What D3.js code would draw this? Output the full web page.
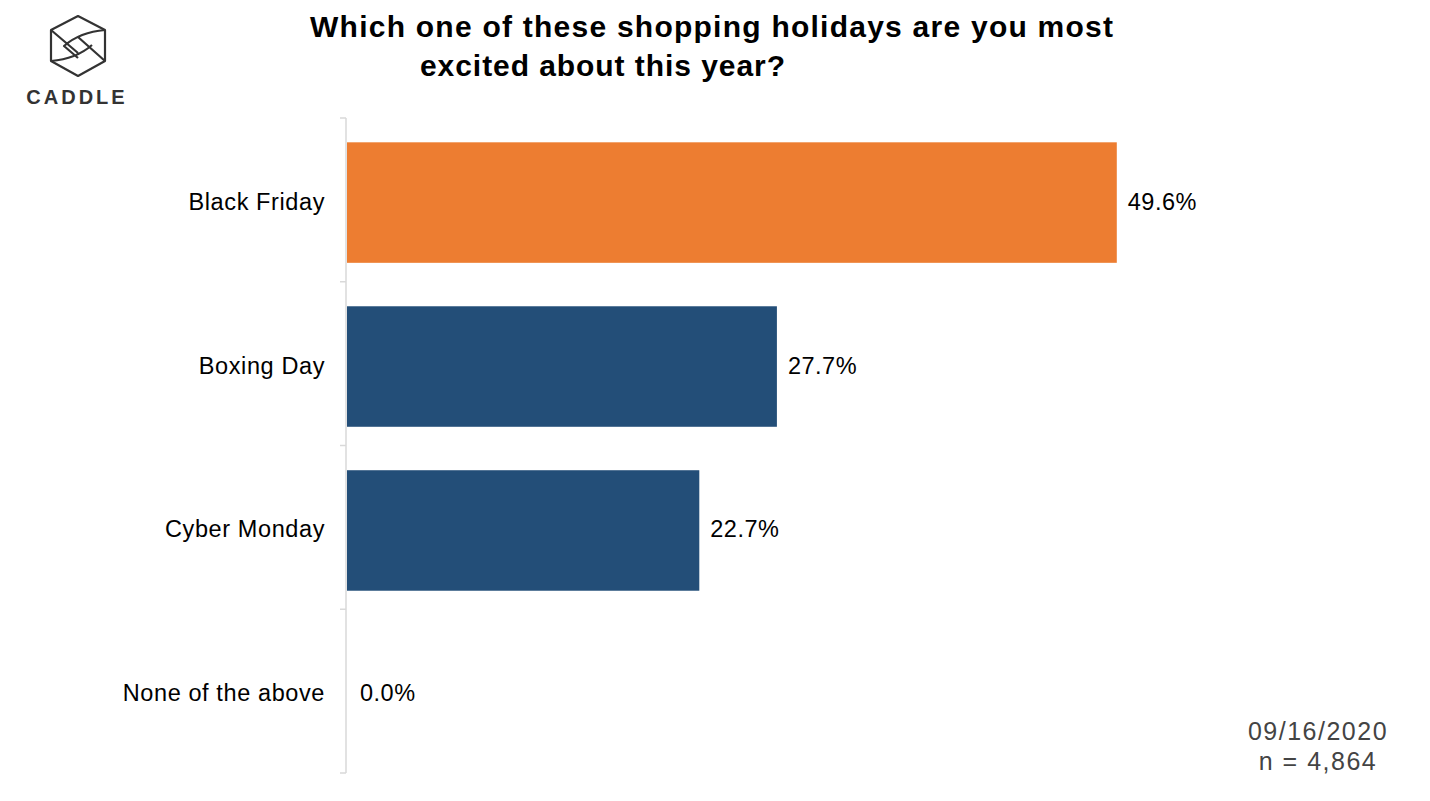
<!DOCTYPE html>
<html><head><meta charset="utf-8">
<script src="https://cdn.jsdelivr.net/npm/d3@7"></script>
<style>body{margin:0;background:#fff}text{font-family:"Liberation Sans",Arial,sans-serif}</style>
</head><body><svg></svg>
<script>
const categories = ['Black Friday', 'Boxing Day', 'Cyber Monday', 'None of the above'];
const values = [49.6, 27.7, 22.7, 0.0];
const colors = ['#ED7D31', '#234E78', '#234E78', '#234E78'];

const width = 1430, height = 801;
const svg = d3.select('svg').attr('width', width).attr('height', height);

const x = d3.scaleLinear().domain([0, 100]).range([347, 347 + 1552]);
const y = d3.scaleBand().domain(categories).range([121, 776]).paddingInner(0.265).paddingOuter(0.13);

// axis
svg.append('line').attr('x1', 346).attr('x2', 346).attr('y1', 118).attr('y2', 773)
    .attr('stroke', '#d9d9d9').attr('stroke-width', 1.5);
const step = (773 - 118) / categories.length;
d3.range(categories.length + 1).forEach(i => {
    svg.append('line').attr('x1', 340).attr('x2', 346)
        .attr('y1', 118 + i * step).attr('y2', 118 + i * step)
        .attr('stroke', '#d9d9d9').attr('stroke-width', 1.5);
});

svg.selectAll('rect.bar').data(values).enter().append('rect')
    .attr('class', 'bar')
    .attr('x', x(0))
    .attr('y', (d, i) => y(categories[i]))
    .attr('width', d => x(d) - x(0))
    .attr('height', y.bandwidth())
    .attr('fill', (d, i) => colors[i]);

svg.selectAll('text.val').data(values).enter().append('text')
    .attr('x', d => x(d) + (d > 0 ? 11 : 13))
    .attr('y', (d, i) => y(categories[i]) + y.bandwidth() / 2 + 7)
    .attr('font-size', 23.5).attr('letter-spacing', 0.5).attr('fill', '#000')
    .text(d => d.toFixed(1) + '%');

svg.selectAll('text.cat').data(categories).enter().append('text')
    .attr('x', 325).attr('text-anchor', 'end')
    .attr('y', d => y(d) + y.bandwidth() / 2 + 7)
    .attr('font-size', 23.5).attr('letter-spacing', 0.6).attr('fill', '#000')
    .text(d => d);

// title
svg.append('text').attr('x', 310).attr('y', 37)
    .attr('font-size', 30).attr('font-weight', 'bold')
    .attr('textLength', 803).attr('lengthAdjust', 'spacing')
    .text('Which one of these shopping holidays are you most');
svg.append('text').attr('x', 420).attr('y', 76)
    .attr('font-size', 30).attr('font-weight', 'bold')
    .attr('textLength', 365).attr('lengthAdjust', 'spacing')
    .text('excited about this year?');

// footer
svg.append('text').attr('x', 1318).attr('y', 740).attr('text-anchor', 'middle')
    .attr('font-size', 25).attr('fill', '#444').attr('letter-spacing', 1.5).text('09/16/2020');
svg.append('text').attr('x', 1318).attr('y', 770).attr('text-anchor', 'middle')
    .attr('font-size', 25).attr('fill', '#444').attr('letter-spacing', 1.5).text('n = 4,864');

// logo
const lg = svg.append('g').attr('fill', 'none').attr('stroke', '#333').attr('stroke-width', 2.2).attr('stroke-linejoin', 'round');
lg.append('path').attr('d', 'M78,16 L105,30 L105,61 L78,76 L51,61 L51,30 Z');
lg.append('path').attr('d', 'M51,30 L78,53 M105,30 Q80,32 64,46 L78,58 M105,61 L78,37 M51,61 Q76,59 92,45');
svg.append('text').attr('x', 77).attr('y', 104).attr('text-anchor', 'middle')
    .attr('font-size', 20).attr('font-weight', 'bold').attr('fill', '#333').attr('letter-spacing', 3).text('CADDLE');
</script></body></html>
